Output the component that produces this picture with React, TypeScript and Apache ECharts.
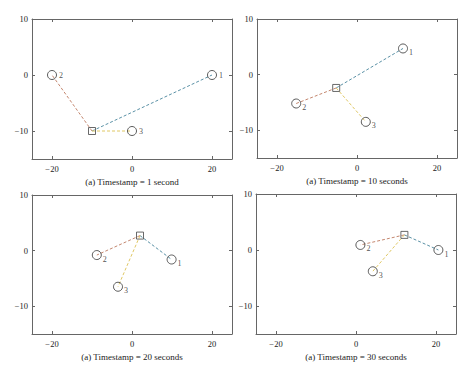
import React, { useEffect, useRef } from "react";
import * as echarts from "echarts";

const captions = [
  "(a) Timestamp = 1 second",
  "(a) Timestamp = 10 seconds",
  "(a) Timestamp = 20 seconds",
  "(a) Timestamp = 30 seconds",
];
const hub = [
  [-10, -10],
  [-5.2, -2.4],
  [2, 2.7],
  [12.1, 2.7],
];
const node1 = [
  [20, 0],
  [11.5, 4.7],
  [9.9, -1.6],
  [20.6, 0],
];
const node2 = [
  [-20, 0],
  [-15.2, -5.2],
  [-8.8, -0.8],
  [1.1, 0.9],
];
const node3 = [
  [0, -10],
  [2.2, -8.5],
  [-3.5, -6.5],
  [4.2, -3.8],
];
const nodeNames = ["1", "2", "3"];
const xTicks = [-20, 0, 20];
const yTicks = [-10, 0, 10];
const xRange = [-25, 25];
const yRange = [-15, 10];

const lineColors = ["#5a91a6", "#c4876f", "#e0c865"];
const FONT = "Liberation Serif";

const grids = [
  { left: 32, top: 19, width: 200, height: 140 },
  { left: 257, top: 19, width: 200, height: 139 },
  { left: 32, top: 195, width: 200, height: 139 },
  { left: 256, top: 194, width: 200, height: 140 },
];

const fmt = (v: number) => String(v).replace("-", "\u2212");

export default function App() {
  const ref = useRef<HTMLDivElement>(null);
  useEffect(() => {
    if (!ref.current) return;
    const chart = echarts.init(ref.current, null, { renderer: "svg" });
    const xAxis: any[] = [];
    const yAxis: any[] = [];
    const series: any[] = [];
    const title: any[] = [];
    const axisLine = { show: true, onZero: false, lineStyle: { color: "#666", width: 1 } };
    const tick = (vals: number[]) => ({
      show: true,
      inside: true,
      length: 3,
      customValues: vals,
      lineStyle: { color: "#666" },
    });
    grids.forEach((g, i) => {
      const baseX = {
        type: "value",
        gridIndex: i,
        min: xRange[0],
        max: xRange[1],
        splitLine: { show: false },
        axisLine,
      };
      const baseY = {
        type: "value",
        gridIndex: i,
        min: yRange[0],
        max: yRange[1],
        splitLine: { show: false },
        axisLine,
      };
      xAxis.push({
        ...baseX,
        position: "bottom",
        axisTick: tick(xTicks),
        axisLabel: {
          show: true,
          customValues: xTicks,
          formatter: fmt,
          fontFamily: FONT,
          fontSize: 8.5,
          color: "#222",
          margin: 5,
        },
      });
      xAxis.push({
        ...baseX,
        position: "top",
        axisTick: tick(xTicks),
        axisLabel: { show: false },
      });
      yAxis.push({
        ...baseY,
        position: "left",
        axisTick: tick(yTicks),
        axisLabel: {
          show: true,
          customValues: yTicks,
          formatter: fmt,
          fontFamily: FONT,
          fontSize: 8.5,
          color: "#222",
          margin: 4,
        },
      });
      yAxis.push({
        ...baseY,
        position: "right",
        axisTick: tick(yTicks),
        axisLabel: { show: false },
      });
      const xi = i * 2;
      const yi = i * 2;
      const nodes = [node1[i], node2[i], node3[i]];
      nodes.forEach((n, k) => {
        series.push({
          type: "line",
          xAxisIndex: xi,
          yAxisIndex: yi,
          data: [hub[i], n],
          symbol: "none",
          lineStyle: { color: lineColors[k], width: 1, type: [3, 2] },
          z: 1,
        });
      });
      series.push({
        type: "scatter",
        xAxisIndex: xi,
        yAxisIndex: yi,
        data: nodes.map((n, k) => ({ value: n, name: nodeNames[k] })),
        symbol: "circle",
        symbolSize: 9,
        itemStyle: { color: "rgba(255,255,255,0)", borderColor: "#333", borderWidth: 1 },
        label: {
          show: true,
          position: "right",
          distance: 2,
          offset: i === 0 ? [0, 0] : [-1, 4],
          formatter: (p: any) => p.name,
          fontFamily: FONT,
          fontSize: 8,
          color: "#222",
        },
        z: 3,
      });
      series.push({
        type: "scatter",
        xAxisIndex: xi,
        yAxisIndex: yi,
        data: [hub[i]],
        symbol: "rect",
        symbolSize: 7,
        itemStyle: { color: "rgba(255,255,255,0)", borderColor: "#444", borderWidth: 1 },
        z: 3,
      });
      title.push({
        text: captions[i],
        left: g.left + g.width / 2,
        top: g.top + g.height + 18,
        textAlign: "center",
        textStyle: { fontFamily: FONT, fontSize: 9, fontWeight: "normal", color: "#222" },
        padding: 0,
      });
    });
    chart.setOption({
      animation: false,
      backgroundColor: "#fff",
      title,
      grid: grids,
      xAxis,
      yAxis,
      series,
    });
    return () => chart.dispose();
  }, []);
  return (
    <div
      ref={ref}
      style={{ position: "fixed", left: 0, top: 0, width: 474, height: 376 }}
    />
  );
}
